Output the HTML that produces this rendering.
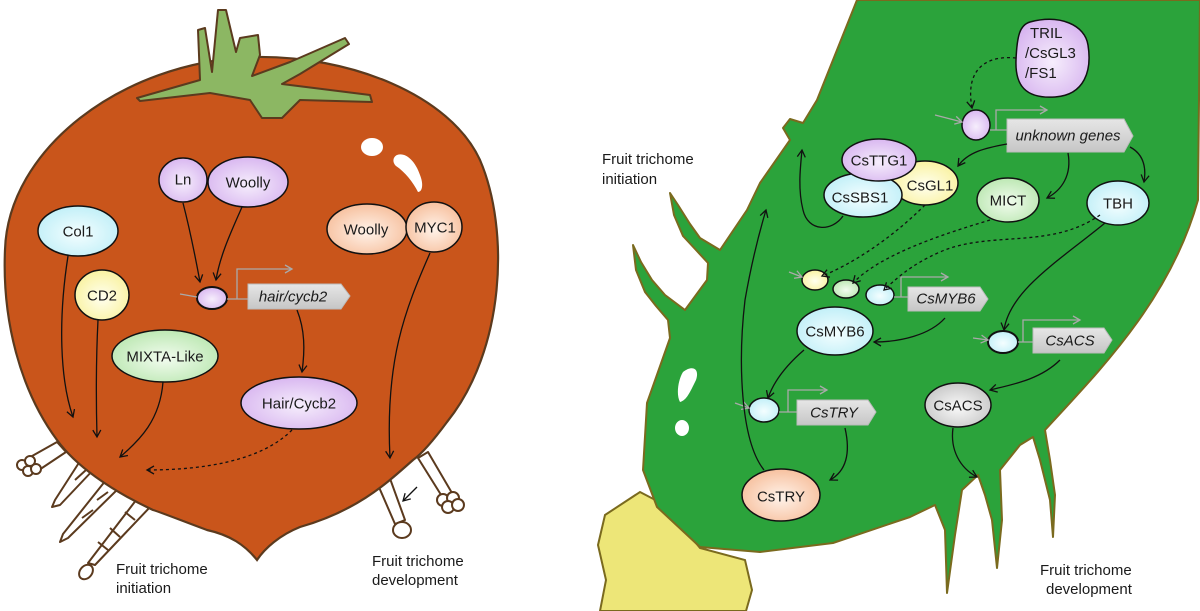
<!DOCTYPE html>
<html><head><meta charset="utf-8"><style>
html,body{margin:0;padding:0;background:#fff;}
svg{display:block;}
text{font-family:"Liberation Sans",sans-serif;font-size:15px;fill:#1a1a1a;}
.n{text-anchor:middle;dominant-baseline:central;}
.it{font-style:italic;}
</style></head><body>
<svg width="1200" height="611" viewBox="0 0 1200 611" xmlns="http://www.w3.org/2000/svg">
<defs>
<radialGradient id="gp" cx="50%" cy="55%" r="60%"><stop offset="0" stop-color="#f6eefc"/><stop offset="1" stop-color="#d6b2ef"/></radialGradient>
<radialGradient id="gb" cx="50%" cy="55%" r="60%"><stop offset="0" stop-color="#f4feff"/><stop offset="1" stop-color="#bdeef7"/></radialGradient>
<radialGradient id="gy" cx="50%" cy="55%" r="60%"><stop offset="0" stop-color="#fffff0"/><stop offset="1" stop-color="#f9f19a"/></radialGradient>
<radialGradient id="gg" cx="50%" cy="55%" r="60%"><stop offset="0" stop-color="#f2fcef"/><stop offset="1" stop-color="#b8e6ae"/></radialGradient>
<radialGradient id="go" cx="50%" cy="55%" r="60%"><stop offset="0" stop-color="#fff3ea"/><stop offset="1" stop-color="#f6bc98"/></radialGradient>
<radialGradient id="gr" cx="50%" cy="55%" r="60%"><stop offset="0" stop-color="#fafafa"/><stop offset="1" stop-color="#c4c4c4"/></radialGradient>
<linearGradient id="pg" x1="0" y1="0" x2="0" y2="1"><stop offset="0" stop-color="#e6e6e6"/><stop offset="1" stop-color="#c6c6c6"/></linearGradient>
<marker id="ah" markerWidth="10" markerHeight="10" refX="8" refY="5" orient="auto" markerUnits="userSpaceOnUse"><path d="M1,1 L8,5 L1,9" fill="none" stroke="#111" stroke-width="1.3"/></marker>
<marker id="ag" markerWidth="10" markerHeight="10" refX="8" refY="5" orient="auto" markerUnits="userSpaceOnUse"><path d="M1,1 L8,5 L1,9" fill="none" stroke="#aaa" stroke-width="1.3"/></marker>
</defs>

<!-- ===== TOMATO ===== -->
<g stroke="#5b3a1e" stroke-width="2" fill="#fff" stroke-linejoin="round">
<path d="M57,442 L66,452 L36,472 L25,460 Z"/>
<circle cx="22" cy="465" r="5"/><circle cx="30" cy="461" r="5"/><circle cx="28" cy="471" r="5"/><circle cx="36" cy="469" r="5"/>
<path d="M82,458 L95,468 L60,505 L52,507 L55,500 Z"/><path d="M86,470 L75,480"/>
<path d="M110,475 L122,485 L68,538 L60,542 L63,534 Z"/><path d="M108,492 L97,500 M93,510 L82,518"/>
<path d="M140,495 L152,505 L95,565 L88,563 Z"/><path d="M135,520 L125,512 M120,537 L110,528 M108,550 L98,542"/>
<ellipse cx="86" cy="572" rx="6" ry="8" transform="rotate(40 86 572)"/>
<path d="M375,478 L388,473 L405,520 L395,524 Z"/>
<ellipse cx="402" cy="530" rx="9" ry="8"/>
<path d="M418,458 L428,452 L452,493 L443,498 Z"/>
<circle cx="443" cy="500" r="6"/><circle cx="453" cy="498" r="6"/><circle cx="448" cy="507" r="6"/><circle cx="458" cy="505" r="6"/>
</g>
<path d="M253,57 C350,55 450,95 480,160 C510,230 505,350 447,422 C430,445 420,455 413,460 C390,480 360,510 300,527 C280,535 265,548 257,560 C245,545 230,535 207,530 C180,520 160,512 153,510 C110,490 75,465 57,440 C20,390 2,320 5,250 C8,150 120,62 253,57 Z" fill="#c9551b" stroke="#5b3a1e" stroke-width="2.2"/>
<path d="M137,98 L200,80 L198,30 L205,28 L212,72 L218,10 L226,10 L236,52 L240,38 L258,35 L260,55 L252,76 L290,62 L345,38 L349,44 L300,74 L282,84 L370,95 L372,102 L300,100 L282,118 L262,118 L250,100 L210,93 L140,101 Z" fill="#8cb763" stroke="#5b3a1e" stroke-width="2" stroke-linejoin="round"/>
<ellipse cx="372" cy="147" rx="11" ry="9" fill="#fff"/>
<path d="M397,155 C405,152 415,160 420,175 C424,185 422,192 418,192 C413,182 405,172 396,166 C392,162 393,157 397,155 Z" fill="#fff"/>
<path d="M417,487 L403,501" stroke="#111" stroke-width="1.3" marker-end="url(#ah)"/>

<g stroke="#111" stroke-width="1.5">
<ellipse cx="183" cy="180" rx="24" ry="22" fill="url(#gp)"/>
<ellipse cx="248" cy="182" rx="40" ry="25" fill="url(#gp)"/>
<ellipse cx="78" cy="231" rx="40" ry="25" fill="url(#gb)"/>
<ellipse cx="102" cy="295" rx="27" ry="25" fill="url(#gy)"/>
<ellipse cx="165" cy="356" rx="53" ry="26" fill="url(#gg)"/>
<ellipse cx="299" cy="403" rx="58" ry="26" fill="url(#gp)"/>
<ellipse cx="367" cy="229" rx="40" ry="25" fill="url(#go)"/>
<ellipse cx="434" cy="227" rx="28" ry="25" fill="url(#go)"/>
<ellipse cx="212" cy="298" rx="15" ry="11" fill="url(#gp)" stroke-width="2"/>
</g>
<path d="M180,294 L197,297" stroke="#aaa" stroke-width="1.3"/>
<path d="M227,299 L248,299 M237,299 L237,269 L292,269" stroke="#aaa" stroke-width="1.3" fill="none" marker-end="url(#ag)"/>
<path d="M248,284 L341,284 L350,296 L341,309 L248,309 Z" fill="url(#pg)" stroke="#bbb"/>
<text x="293" y="297" class="n it">hair/cycb2</text>
<text x="183" y="180" class="n">Ln</text>
<text x="248" y="183" class="n">Woolly</text>
<text x="78" y="232" class="n">Col1</text>
<text x="102" y="296" class="n">CD2</text>
<text x="165" y="357" class="n">MIXTA-Like</text>
<text x="299" y="404" class="n">Hair/Cycb2</text>
<text x="366" y="230" class="n">Woolly</text>
<text x="435" y="228" class="n">MYC1</text>
<g fill="none" stroke="#111" stroke-width="1.3" marker-end="url(#ah)">
<path d="M183,203 C190,230 195,255 200,282"/>
<path d="M242,207 C232,230 220,255 216,280"/>
<path d="M297,310 C305,330 305,350 302,372"/>
<path d="M68,256 C58,320 60,380 73,417"/>
<path d="M98,320 C96,360 96,400 97,437"/>
<path d="M163,382 C160,420 140,440 120,457"/>
<path d="M430,253 C405,310 385,360 390,458"/>
<path d="M292,430 C260,462 200,470 147,470" stroke-dasharray="3,3"/>
</g>
<text x="116" y="574">Fruit trichome</text>
<text x="116" y="593">initiation</text>
<text x="372" y="566">Fruit trichome</text>
<text x="372" y="585">development</text>

<!-- ===== CUCUMBER ===== -->
<path d="M605,515 L640,492 L665,505 L700,548 L745,560 L752,590 L746,611 L600,611 L606,580 L598,545 Z" fill="#ede678" stroke="#7a6a1e" stroke-width="2"/>
<path d="M857,0 L817,100 L803,123 L790,119 L783,128 L790,140 L760,183 L747,210 L720,250 L700,238 L690,224 L678,205 L670,193 L674,215 L683,236 L696,250 L708,263 L707,280 L685,310 L665,295 L652,280 L641,262 L633,245 L636,270 L645,292 L656,306 L668,320 L670,338 L647,403 L643,470 L657,507 L700,547 L760,552 L833,543 L910,517 L935,505 L945,530 L947,593 L955,535 L962,490 L978,475 L985,495 L992,520 L997,568 L1002,520 L1000,470 L1020,445 L1033,437 L1040,460 L1050,500 L1053,537 L1055,495 L1050,460 L1045,430 C1100,370 1170,300 1198,200 L1200,0 Z" fill="#2ba33b" stroke="#7a6a1e" stroke-width="2" stroke-linejoin="round"/>
<path d="M683,372 C692,365 700,368 696,380 C690,392 687,400 680,402 C676,395 678,380 683,372 Z" fill="#fff"/>
<ellipse cx="682" cy="428" rx="7" ry="8" fill="#fff"/>
<text x="602" y="164">Fruit trichome</text>
<text x="602" y="184">initiation</text>
<text x="1040" y="575">Fruit trichome</text>
<text x="1046" y="594">development</text>

<g stroke="#111" stroke-width="1.5">
<path d="M1030,22 C1060,14 1085,25 1088,45 C1092,70 1085,95 1055,97 C1025,99 1015,85 1016,60 C1017,35 1020,25 1030,22 Z" fill="url(#gp)"/>
<ellipse cx="976" cy="125" rx="14" ry="15" fill="url(#gp)"/>
<ellipse cx="925" cy="183" rx="33" ry="22" fill="url(#gy)"/>
<ellipse cx="863" cy="195" rx="39" ry="22" fill="url(#gb)"/>
<ellipse cx="879" cy="160" rx="37" ry="21" fill="url(#gp)"/>
<ellipse cx="1008" cy="200" rx="31" ry="22" fill="url(#gg)"/>
<ellipse cx="1118" cy="203" rx="31" ry="22" fill="url(#gb)"/>
<ellipse cx="815" cy="280" rx="13" ry="10" fill="url(#gy)"/>
<ellipse cx="846" cy="289" rx="13" ry="9" fill="url(#gg)"/>
<ellipse cx="880" cy="295" rx="14" ry="10" fill="url(#gb)"/>
<ellipse cx="835" cy="331" rx="38" ry="24" fill="url(#gb)"/>
<ellipse cx="1003" cy="342" rx="15" ry="11" fill="url(#gb)" stroke-width="2"/>
<ellipse cx="764" cy="410" rx="15" ry="12" fill="url(#gb)"/>
<ellipse cx="958" cy="405" rx="33" ry="22" fill="url(#gr)"/>
<ellipse cx="781" cy="495" rx="39" ry="26" fill="url(#go)"/>
</g>
<g stroke="#aaa" stroke-width="1.3" fill="none" marker-end="url(#ag)">
<path d="M935,115 L962,122"/>
<path d="M990,130 L1007,130 M996,130 L996,110 L1047,110"/>
<path d="M789,272 L802,277"/>
<path d="M894,297 L908,297 M901,297 L901,277 L948,277"/>
<path d="M973,338 L988,340"/>
<path d="M1018,342 L1033,342 M1023,342 L1023,320 L1080,320"/>
<path d="M735,403 L749,408"/>
<path d="M779,412 L797,412 M788,412 L788,390 L827,390"/>
</g>
<path d="M1007,119 L1124,119 L1133,136 L1124,152 L1007,152 Z" fill="url(#pg)" stroke="#bbb"/>
<path d="M908,287 L980,287 L988,299 L980,311 L908,311 Z" fill="url(#pg)" stroke="#bbb"/>
<path d="M1033,328 L1104,328 L1112,340 L1104,353 L1033,353 Z" fill="url(#pg)" stroke="#bbb"/>
<path d="M797,400 L868,400 L876,412 L868,425 L797,425 Z" fill="url(#pg)" stroke="#bbb"/>
<text x="1068" y="136" class="n it">unknown genes</text>
<text x="946" y="299" class="n it">CsMYB6</text>
<text x="1070" y="341" class="n it">CsACS</text>
<text x="834" y="413" class="n it">CsTRY</text>
<text x="1030" y="38">TRIL</text>
<text x="1025" y="58">/CsGL3</text>
<text x="1025" y="78">/FS1</text>
<text x="879" y="161" class="n">CsTTG1</text>
<text x="930" y="186" class="n">CsGL1</text>
<text x="860" y="198" class="n">CsSBS1</text>
<text x="1008" y="201" class="n">MICT</text>
<text x="1118" y="204" class="n">TBH</text>
<text x="835" y="332" class="n">CsMYB6</text>
<text x="958" y="406" class="n">CsACS</text>
<text x="781" y="497" class="n">CsTRY</text>
<g fill="none" stroke="#111" stroke-width="1.3" marker-end="url(#ah)">
<path d="M1016,58 C985,55 965,70 972,108" stroke-dasharray="3,3"/>
<path d="M1007,144 C985,148 968,152 958,166"/>
<path d="M1068,153 C1072,175 1062,190 1047,198"/>
<path d="M1130,147 C1145,155 1146,170 1144,182"/>
<path d="M843,216 C832,232 808,232 803,210 C798,190 800,170 802,150"/>
<path d="M925,205 C890,240 850,265 822,276" stroke-dasharray="3,3"/>
<path d="M990,220 C940,235 880,255 853,283" stroke-dasharray="3,3"/>
<path d="M1100,215 C1050,250 990,230 940,252 C910,265 895,280 884,290" stroke-dasharray="3,3"/>
<path d="M1105,223 C1060,260 1010,290 1004,330"/>
<path d="M945,318 C930,335 900,342 874,342"/>
<path d="M804,350 C790,362 775,378 768,398"/>
<path d="M1060,360 C1040,380 1010,385 990,390"/>
<path d="M845,428 C850,450 848,470 830,480"/>
<path d="M953,428 C950,450 960,468 977,477"/>
<path d="M764,470 C740,440 738,360 745,300 C752,260 760,230 766,210"/>
</g>
</svg>
</body></html>
